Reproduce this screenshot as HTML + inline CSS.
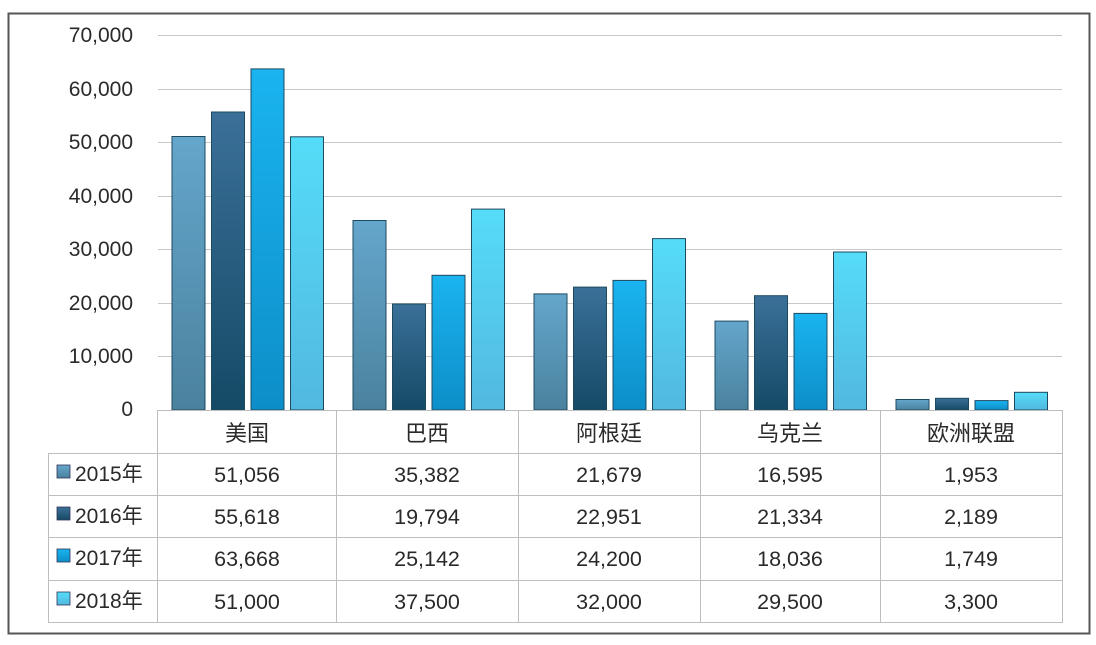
<!DOCTYPE html>
<html><head><meta charset="utf-8"><style>
body{margin:0;background:#fff;}
svg text{font-family:"Liberation Sans","Noto Sans CJK SC",sans-serif;fill:#2a2a2a;}
</style></head><body>
<svg width="1096" height="640" viewBox="0 0 1096 640" xmlns="http://www.w3.org/2000/svg">
<defs>
<linearGradient id="g0" x1="0" y1="0" x2="0" y2="1"><stop offset="0" stop-color="#65a6cc"/><stop offset="1" stop-color="#4a829e"/></linearGradient>
<linearGradient id="g1" x1="0" y1="0" x2="0" y2="1"><stop offset="0" stop-color="#3b7099"/><stop offset="1" stop-color="#154a66"/></linearGradient>
<linearGradient id="g2" x1="0" y1="0" x2="0" y2="1"><stop offset="0" stop-color="#1ab4f0"/><stop offset="1" stop-color="#0d8ec8"/></linearGradient>
<linearGradient id="g3" x1="0" y1="0" x2="0" y2="1"><stop offset="0" stop-color="#55dcf8"/><stop offset="1" stop-color="#52b8e0"/></linearGradient>
</defs>
<rect x="8.5" y="13.5" width="1081" height="620" fill="#fff" stroke="#555" stroke-width="2"/>
<g stroke="#c8c8c8" stroke-width="1">
<line x1="158" y1="35.5" x2="1062" y2="35.5"/>
<line x1="158" y1="89.5" x2="1062" y2="89.5"/>
<line x1="158" y1="142.5" x2="1062" y2="142.5"/>
<line x1="158" y1="196.5" x2="1062" y2="196.5"/>
<line x1="158" y1="249.5" x2="1062" y2="249.5"/>
<line x1="158" y1="303.5" x2="1062" y2="303.5"/>
<line x1="158" y1="356.5" x2="1062" y2="356.5"/>
</g>
<g font-size="21" text-anchor="end">
<text x="133" y="42">70,000</text>
<text x="133" y="96">60,000</text>
<text x="133" y="149">50,000</text>
<text x="133" y="203">40,000</text>
<text x="133" y="256">30,000</text>
<text x="133" y="310">20,000</text>
<text x="133" y="363">10,000</text>
<text x="133" y="416">0</text>
</g>
<g stroke="#1e4a60" stroke-width="1">
<rect x="172" y="136.5" width="33" height="273.5" fill="url(#g0)"/>
<rect x="211.5" y="112" width="33" height="298" fill="url(#g1)"/>
<rect x="251" y="68.9" width="33" height="341.1" fill="url(#g2)"/>
<rect x="290.5" y="136.8" width="33" height="273.2" fill="url(#g3)"/>
<rect x="353" y="220.5" width="33" height="189.5" fill="url(#g0)"/>
<rect x="392.5" y="304" width="33" height="106" fill="url(#g1)"/>
<rect x="432" y="275.3" width="33" height="134.7" fill="url(#g2)"/>
<rect x="471.5" y="209.1" width="33" height="200.9" fill="url(#g3)"/>
<rect x="534" y="293.9" width="33" height="116.1" fill="url(#g0)"/>
<rect x="573.5" y="287.1" width="33" height="122.9" fill="url(#g1)"/>
<rect x="613" y="280.4" width="33" height="129.6" fill="url(#g2)"/>
<rect x="652.5" y="238.6" width="33" height="171.4" fill="url(#g3)"/>
<rect x="715" y="321.1" width="33" height="88.9" fill="url(#g0)"/>
<rect x="754.5" y="295.7" width="33" height="114.3" fill="url(#g1)"/>
<rect x="794" y="313.4" width="33" height="96.6" fill="url(#g2)"/>
<rect x="833.5" y="252" width="33" height="158" fill="url(#g3)"/>
<rect x="896" y="399.5" width="33" height="10.5" fill="url(#g0)"/>
<rect x="935.5" y="398.3" width="33" height="11.7" fill="url(#g1)"/>
<rect x="975" y="400.6" width="33" height="9.4" fill="url(#g2)"/>
<rect x="1014.5" y="392.3" width="33" height="17.7" fill="url(#g3)"/>
</g>
<g stroke="#bdbdbd" stroke-width="1" fill="none">
<line x1="157.5" y1="410" x2="157.5" y2="623"/>
<line x1="336.5" y1="410" x2="336.5" y2="623"/>
<line x1="518.5" y1="410" x2="518.5" y2="623"/>
<line x1="700.5" y1="410" x2="700.5" y2="623"/>
<line x1="880.5" y1="410" x2="880.5" y2="623"/>
<line x1="1062.5" y1="410" x2="1062.5" y2="623"/>
<line x1="157" y1="410.5" x2="1063" y2="410.5"/>
<line x1="48" y1="453.5" x2="1063" y2="453.5"/>
<line x1="48" y1="495.5" x2="1063" y2="495.5"/>
<line x1="48" y1="537.5" x2="1063" y2="537.5"/>
<line x1="48" y1="580.5" x2="1063" y2="580.5"/>
<line x1="48" y1="622.5" x2="1063" y2="622.5"/>
<line x1="48.5" y1="453" x2="48.5" y2="623"/>
</g>
<g font-size="22" text-anchor="middle">
<text x="247" y="441">美国</text><text x="427" y="441">巴西</text><text x="609" y="441">阿根廷</text><text x="790" y="441">乌克兰</text><text x="971" y="441">欧洲联盟</text>
</g>
<g font-size="21.5" text-anchor="middle">
<text x="247" y="482">51,056</text><text x="427" y="482">35,382</text><text x="609" y="482">21,679</text><text x="790" y="482">16,595</text><text x="971" y="482">1,953</text>
<text x="247" y="524">55,618</text><text x="427" y="524">19,794</text><text x="609" y="524">22,951</text><text x="790" y="524">21,334</text><text x="971" y="524">2,189</text>
<text x="247" y="566">63,668</text><text x="427" y="566">25,142</text><text x="609" y="566">24,200</text><text x="790" y="566">18,036</text><text x="971" y="566">1,749</text>
<text x="247" y="609">51,000</text><text x="427" y="609">37,500</text><text x="609" y="609">32,000</text><text x="790" y="609">29,500</text><text x="971" y="609">3,300</text>
</g>
<g stroke="#335" stroke-width="0.8">
<rect x="57" y="465" width="13" height="13" fill="url(#g0)"/>
<rect x="57" y="507" width="13" height="13" fill="url(#g1)"/>
<rect x="57" y="549" width="13" height="13" fill="url(#g2)"/>
<rect x="57" y="592" width="13" height="13" fill="url(#g3)"/>
</g>
<g font-size="21">
<text x="75" y="481">2015年</text>
<text x="75" y="523">2016年</text>
<text x="75" y="565">2017年</text>
<text x="75" y="608">2018年</text>
</g>
</svg>
</body></html>
